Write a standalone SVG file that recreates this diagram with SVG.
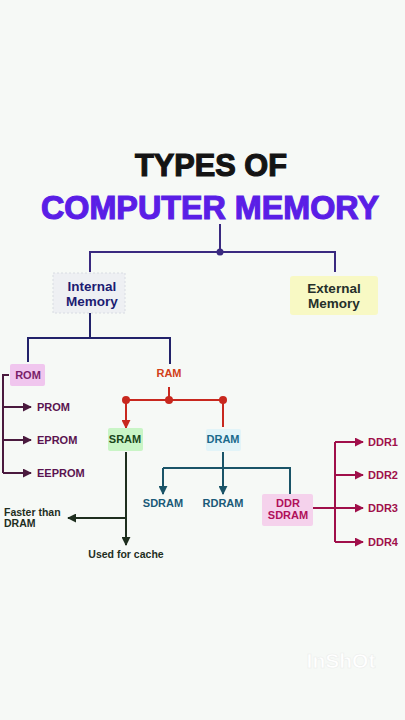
<svg xmlns="http://www.w3.org/2000/svg" width="405" height="720" viewBox="0 0 405 720">
<defs>
<style>
text{font-family:"Liberation Sans",Arial,sans-serif;font-weight:bold}
.lbl{font-size:11px;text-anchor:middle}
.sub{font-size:11px}
.c{fill:none;stroke-width:2}
</style>
<marker id="aRom" viewBox="0 0 10 10" refX="9" refY="5" markerWidth="4.5" markerHeight="4.5" orient="auto"><path d="M0,0L10,5L0,10z" fill="#4a1a3e"/></marker>
<marker id="aRed" viewBox="0 0 10 10" refX="9" refY="5" markerWidth="4.5" markerHeight="4.5" orient="auto"><path d="M0,0L10,5L0,10z" fill="#c8281e"/></marker>
<marker id="aGrn" viewBox="0 0 10 10" refX="9" refY="5" markerWidth="4.5" markerHeight="4.5" orient="auto"><path d="M0,0L10,5L0,10z" fill="#1e2e1e"/></marker>
<marker id="aTeal" viewBox="0 0 10 10" refX="9" refY="5" markerWidth="4.5" markerHeight="4.5" orient="auto"><path d="M0,0L10,5L0,10z" fill="#1a5468"/></marker>
<marker id="aDdr" viewBox="0 0 10 10" refX="9" refY="5" markerWidth="4.5" markerHeight="4.5" orient="auto"><path d="M0,0L10,5L0,10z" fill="#a0104a"/></marker>
</defs>
<rect width="405" height="720" fill="#f6f9f6"/>

<g id="title">
<text x="211" y="176" font-size="31" text-anchor="middle" fill="#141414" stroke="#141414" stroke-width="1.2" font-family="'Open Sans','Liberation Sans',sans-serif" font-weight="800" textLength="152" lengthAdjust="spacingAndGlyphs">TYPES OF</text>
<text x="210" y="219" font-size="33" text-anchor="middle" fill="#5a1ee6" stroke="#5a1ee6" stroke-width="1.2" font-family="'Open Sans','Liberation Sans',sans-serif" font-weight="800" textLength="338" lengthAdjust="spacingAndGlyphs">COMPUTER MEMORY</text>
</g>

<g id="connectors">
<path class="c" stroke="#3a2a80" d="M220,224V252M90,272V252H335V272"/>
<circle cx="220" cy="252" r="3.5" fill="#3a2a80"/>
<path class="c" stroke="#22226a" d="M90,313V338M28,362V338H170V364"/>
<path class="c" stroke="#4a1a3e" d="M9,375H3V473"/>
<path class="c" stroke="#4a1a3e" marker-end="url(#aRom)" d="M3,407H31"/>
<path class="c" stroke="#4a1a3e" marker-end="url(#aRom)" d="M3,440H31"/>
<path class="c" stroke="#4a1a3e" marker-end="url(#aRom)" d="M3,473H31"/>
<path class="c" stroke="#c8281e" d="M169,387V400M126,400H223V427"/>
<path class="c" stroke="#c8281e" marker-end="url(#aRed)" d="M126,400V428"/>
<circle cx="126" cy="400" r="4" fill="#c8281e"/>
<circle cx="169" cy="400" r="4" fill="#c8281e"/>
<circle cx="223" cy="400" r="4" fill="#c8281e"/>
<path class="c" stroke="#1e2e1e" marker-end="url(#aGrn)" d="M126,452V545"/>
<path class="c" stroke="#1e2e1e" marker-end="url(#aGrn)" d="M126,518H68"/>
<path class="c" stroke="#1a5468" d="M163,468H290V494"/>
<path class="c" stroke="#1a5468" marker-end="url(#aTeal)" d="M223,452V494"/>
<path class="c" stroke="#1a5468" marker-end="url(#aTeal)" d="M163,468V494"/>
<path class="c" stroke="#a0104a" d="M312,508H335M335,442V542"/>
<path class="c" stroke="#a0104a" marker-end="url(#aDdr)" d="M335,442H363"/>
<path class="c" stroke="#a0104a" marker-end="url(#aDdr)" d="M335,475H363"/>
<path class="c" stroke="#a0104a" marker-end="url(#aDdr)" d="M335,508H363"/>
<path class="c" stroke="#a0104a" marker-end="url(#aDdr)" d="M335,542H363"/>
</g>

<g id="internal-memory">
<rect x="53" y="273" width="72" height="40" fill="#eef0f3" stroke="#d8dce2" stroke-dasharray="2 2"/>
<text x="92" y="291" font-size="13.5" text-anchor="middle" fill="#1c1c72">Internal</text>
<text x="92" y="306" font-size="13.5" text-anchor="middle" fill="#1c1c72">Memory</text>
</g>
<g id="external-memory">
<rect x="290" y="276" width="88" height="39" rx="3" fill="#f8f9c4"/>
<text x="334" y="293" font-size="13.5" text-anchor="middle" fill="#25302a">External</text>
<text x="334" y="308" font-size="13.5" text-anchor="middle" fill="#25302a">Memory</text>
</g>
<g id="rom">
<rect x="10" y="364" width="35" height="22" rx="2" fill="#f0c6ee"/>
<text class="lbl" x="28" y="379" fill="#7a1e6a">ROM</text>
</g>
<g id="prom"><text class="sub" x="37" y="411" fill="#5a1450">PROM</text></g>
<g id="eprom"><text class="sub" x="37" y="444" fill="#5a1450">EPROM</text></g>
<g id="eeprom"><text class="sub" x="37" y="477" fill="#5a1450">EEPROM</text></g>
<g id="ram"><text class="lbl" x="169" y="377" fill="#d24018">RAM</text></g>
<g id="sram">
<rect x="108" y="428" width="35" height="23" rx="2" fill="#c9f5c6"/>
<text class="lbl" x="125" y="443" fill="#1a461a">SRAM</text>
</g>
<g id="dram">
<rect x="206" y="429" width="35" height="22" rx="2" fill="#e2f4f8"/>
<text class="lbl" x="223" y="443" fill="#1a6a8c">DRAM</text>
</g>
<g id="faster">
<text x="4" y="516" font-size="10.5" fill="#1e2e1e">Faster than</text>
<text x="4" y="527" font-size="10.5" fill="#1e2e1e">DRAM</text>
</g>
<g id="cache"><text x="126" y="558" font-size="10.5" text-anchor="middle" fill="#1e2e1e">Used for cache</text></g>
<g id="sdram"><text class="lbl" x="163" y="507" fill="#1a5a78">SDRAM</text></g>
<g id="rdram"><text class="lbl" x="223" y="507" fill="#1a5a78">RDRAM</text></g>
<g id="ddr-sdram">
<rect x="262" y="494" width="51" height="32" rx="2" fill="#f5d2ec"/>
<text class="lbl" x="288" y="507" fill="#b0105a">DDR</text>
<text class="lbl" x="288" y="519" fill="#b0105a">SDRAM</text>
</g>
<g id="ddr1"><text class="sub" x="368" y="446" fill="#a0104a">DDR1</text></g>
<g id="ddr2"><text class="sub" x="368" y="479" fill="#a0104a">DDR2</text></g>
<g id="ddr3"><text class="sub" x="368" y="512" fill="#a0104a">DDR3</text></g>
<g id="ddr4"><text class="sub" x="368" y="546" fill="#a0104a">DDR4</text></g>
<g id="watermark"><text x="341" y="668" font-size="21" text-anchor="middle" fill="#ffffff" stroke="#eceeec" stroke-width="0.6">InShOt</text></g>
</svg>
